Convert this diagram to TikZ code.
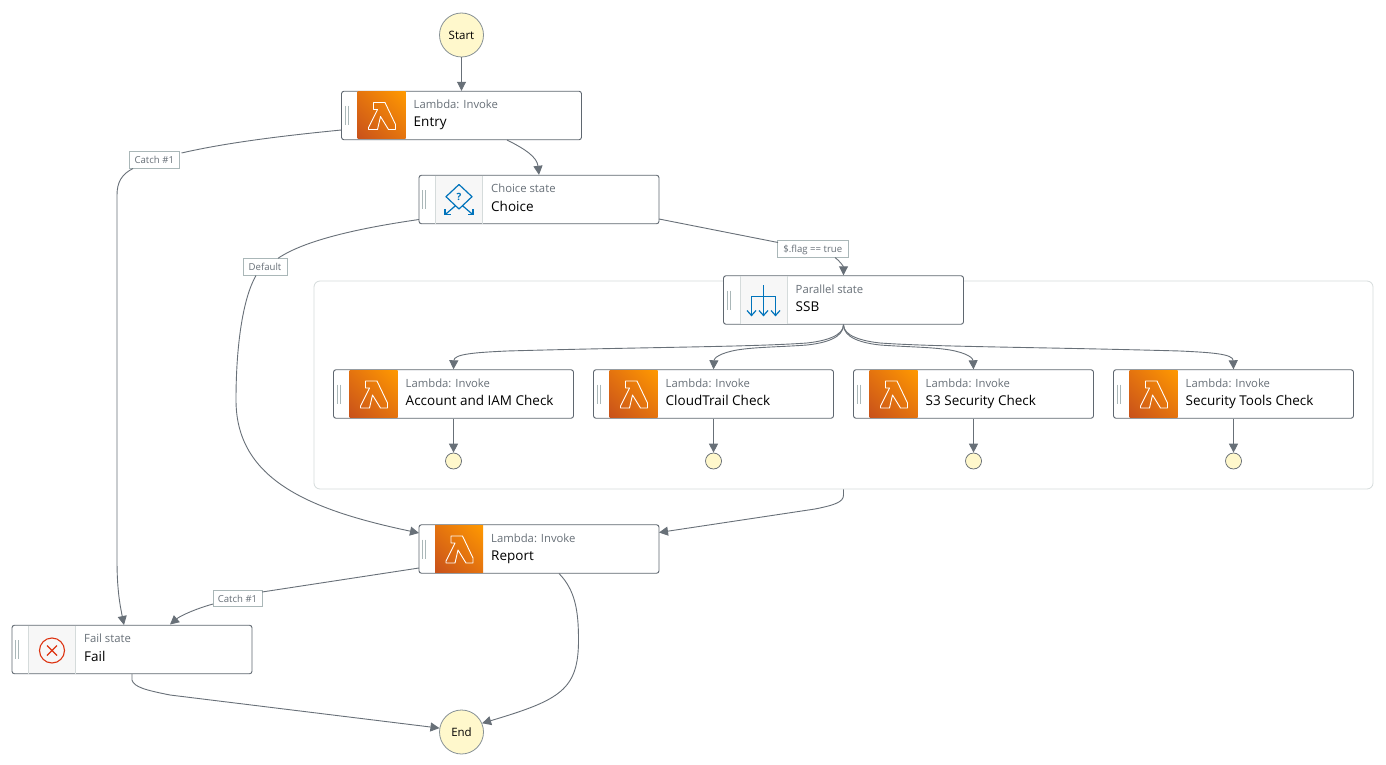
\documentclass[tikz,border=0pt]{standalone}
\usepackage{fontspec}
\setmainfont{Open Sans}
\usetikzlibrary{arrows.meta,calc,shadings}
\definecolor{edgec}{HTML}{687078}
\definecolor{boxc}{HTML}{5F6770}
\definecolor{termc}{HTML}{879196}
\definecolor{lightc}{HTML}{D5DBDB}
\definecolor{labelc}{HTML}{AAB7B8}
\definecolor{circfill}{HTML}{FFF8CC}
\definecolor{blueic}{HTML}{0073BB}
\definecolor{redic}{HTML}{DD3311}
\definecolor{lamll}{HTML}{C8511B}
\definecolor{lammid}{HTML}{E4730F}
\definecolor{lamur}{HTML}{FF9900}
\tikzset{
  x=1pt,y=-1pt,
  statebox/.style={draw=boxc,line width=0.9pt,fill=white,rounded corners=2.5pt,minimum width=240pt,minimum height=48.5pt,inner sep=0pt},
  terminal/.style={circle,draw=termc,line width=0.8pt,fill=circfill,minimum size=44pt,inner sep=0pt,font=\fontsize{11.5}{13}\selectfont,text=black},
  endpoint/.style={circle,draw=boxc,line width=0.7pt,fill=circfill,minimum size=16pt,inner sep=0pt},
  kindtext/.style={anchor=base west,inner sep=0pt,text=edgec,font=\fontsize{11.3}{13}\selectfont},
  titletext/.style={anchor=base west,inner sep=0pt,text=black,font=\fontsize{13.5}{16}\selectfont},
  edgelabel/.style={draw=labelc,line width=0.8pt,fill=white,text=edgec,inner sep=0pt,minimum height=16.5pt,text height=7pt,text depth=0pt,font=\fontsize{9.6}{12}\selectfont},
  flow/.style={draw=edgec,line width=0.9pt,-{Triangle[length=9pt,width=9pt]}},
  plainflow/.style={draw=edgec,line width=0.9pt},
  lambdaicon/.pic={
    \shade[lower left=lamll,upper left=lammid,lower right=lammid,upper right=lamur] (-24,-23.5) rectangle (24,23.5);
    \draw[white,line width=0.9pt,line join=round] (-8,-13) -- (3.5,-13) -- (14,9) -- (14,14) -- (7,14) -- (-1,1) -- (-4,14) -- (-13,14) -- (-13,12) -- (-4,-6) -- (-8,-6) -- cycle;
  },
  plainiconbg/.pic={
    \fill[black!3] (-23.5,-23.5) rectangle (23.5,23.5);
    \draw[lightc,line width=0.8pt] (-23.5,-24) -- (-23.5,24) (23.5,-24) -- (23.5,24);
  },
  choiceicon/.pic={
    \pic {plainiconbg};
    \draw[blueic,line width=1.2pt,line join=round] (0,-15) -- (13,-2.8) -- (0,9.5) -- (-13,-2.8) -- cycle;
    \node[text=blueic,inner sep=0pt,font=\fontsize{10}{11}\bfseries\selectfont] at (0,-3) {?};
    \draw[blueic,line width=1.2pt] (-3.5,6.2) -- (-13.5,14.8) (3.5,6.2) -- (13.5,14.8);
    \draw[blueic,line width=1.2pt] (-14,9.5) -- (-14,15) -- (-8.5,15) (14,9.5) -- (14,15) -- (8.5,15);
  },
  parallelicon/.pic={
    \pic {plainiconbg};
    \draw[blueic,line width=1.2pt] (0,-15) -- (0,15) (-12,15) -- (-12,-3.3) -- (12,-3.3) -- (12,15);
    \foreach \xx in {-12,0,12} {\draw[blueic,line width=1.2pt] (\xx-4.5,10.5) -- (\xx,15.5) -- (\xx+4.5,10.5);}
  },
  failicon/.pic={
    \pic {plainiconbg};
    \draw[redic,line width=1.1pt] (0,1) circle (12.5);
    \draw[redic,line width=1.1pt] (-5,-4) -- (5,6) (-5,6) -- (5,-4);
  }
}
\newcommand{\stateblock}[6]{% name, cx, cy, kind, title, icon
  \node[statebox] (#1) at (#2,#3) {};
  \draw[labelc,line width=0.7pt] ($(#1.center)+(-116.5,-9.5)$) -- ++(0,19) ($(#1.center)+(-113.5,-9.5)$) -- ++(0,19);
  \pic at ($(#1.center)+(-80,0)$) {#6};
  \node[kindtext] (#1-kind) at ($(#1.center)+(-48,-7)$) {#4};
  \node[titletext] (#1-title) at ($(#1.center)+(-48,11.5)$) {#5};
}
\begin{document}
\begin{tikzpicture}
\useasboundingbox (0,0) rectangle (1386,765);
\fill[white] (0,0) rectangle (1386,765);
% parallel group
\node[draw=lightc,line width=0.8pt,rounded corners=6pt,minimum width=1059pt,minimum height=208pt,inner sep=0pt] (group) at (843.5,385) {};
% states
\node[terminal] (start) at (461.5,35) {Start};
\node[terminal] (end) at (461.5,732) {End};
\stateblock{entry}{461.5}{115.5}{Lambda: Invoke}{Entry}{lambdaicon}
\stateblock{choice}{539}{199.5}{Choice state}{Choice}{choiceicon}
\stateblock{ssb}{843.5}{300}{Parallel state}{SSB}{parallelicon}
\stateblock{acct}{453.5}{394}{Lambda: Invoke}{Account and IAM Check}{lambdaicon}
\stateblock{trail}{713.5}{394}{Lambda: Invoke}{CloudTrail Check}{lambdaicon}
\stateblock{sthree}{973.5}{394}{Lambda: Invoke}{S3 Security Check}{lambdaicon}
\stateblock{tools}{1233.5}{394}{Lambda: Invoke}{Security Tools Check}{lambdaicon}
\stateblock{report}{539}{549}{Lambda: Invoke}{Report}{lambdaicon}
\stateblock{fail}{132}{649.5}{Fail state}{Fail}{failicon}
\node[endpoint] (acctend) at (453.5,461) {};
\node[endpoint] (trailend) at (713.5,461) {};
\node[endpoint] (sthreeend) at (973.5,461) {};
\node[endpoint] (toolsend) at (1233.5,461) {};
% labels
\node[edgelabel,minimum width=50pt] (catcha) at (154.3,160) {Catch \#1};
\node[edgelabel,minimum width=44pt] (deflabel) at (265,267) {Default};
\node[edgelabel,minimum width=71pt] (flag) at (812.8,249) {\$.flag == true};
\node[edgelabel,minimum width=49pt] (catchb) at (237.5,598.5) {Catch \#1};
% free connector ends on box borders
\coordinate (entryl) at (341.5,130);
\coordinate (entryb) at (507,140);
\coordinate (choicel) at (419,219.5);
\coordinate (choicer) at (659,219);
\coordinate (reportl) at (419,568);
\coordinate (reportr) at (659,532.5);
\coordinate (reportli) at (419,533);
\coordinate (reportb) at (559,573.5);
\coordinate (failt) at (124,625);
\coordinate (failtb) at (170,624.5);
% connectors
\draw[flow] (start.south) -- (entry.north);
\draw[flow] (entryb) .. controls (525,149) and (537,157) .. (choice.north);
\draw[plainflow] (entryl) .. controls (280,136) and (225,143) .. (181.5,153);
\draw[flow] (133,168.5) .. controls (122,174) and (117,182) .. (117,195) -- (117,560) .. controls (117,590) and (120,605) .. (failt);
\draw[plainflow] (choicel) .. controls (360,228) and (305,240) .. (278,258.3);
\draw[flow] (256,275.5) .. controls (243,298) and (236,345) .. (236,400) .. controls (236,480) and (310,510) .. (reportli);
\draw[plainflow] (choicer) -- (778,242.5);
\draw[flow] (835,257.5) .. controls (840,261) and (843.5,267) .. (ssb.north);
\draw[flow] (ssb.south) .. controls (843.5,336) and (825,341) .. (807,343) .. controls (750,347) and (650,347) .. (507,351) .. controls (475,352.5) and (454,354) .. (acct.north);
\draw[flow] (ssb.south) .. controls (843.5,338) and (825,343) .. (807,345) .. controls (780,347) and (755,347) .. (737,350) .. controls (720,353) and (714,358) .. (trail.north);
\draw[flow] (ssb.south) .. controls (843.5,338) and (862,343) .. (880,345) .. controls (907,347) and (932,347) .. (950,350) .. controls (967,353) and (973,358) .. (sthree.north);
\draw[flow] (ssb.south) .. controls (843.5,336) and (862,341) .. (880,343) .. controls (937,347) and (1037,347) .. (1180,351) .. controls (1212,352.5) and (1233,354) .. (tools.north);
\draw[flow] (acct.south) -- (acctend.north);
\draw[flow] (trail.south) -- (trailend.north);
\draw[flow] (sthree.south) -- (sthreeend.north);
\draw[flow] (tools.south) -- (toolsend.north);
\draw[flow] (group.south) -- (843.5,495) .. controls (843.5,502) and (835,505) .. (815,509) -- (reportr);
\draw[plainflow] (reportl) -- (262,592);
\draw[flow] (213,604) .. controls (195,609) and (180,616) .. (failtb);
\draw[flow] (reportb) .. controls (575,590) and (578.5,610) .. (578.5,640) .. controls (578.5,690) and (560,700) .. (end.23);
\draw[flow] (fail.south) -- (132,680) .. controls (134,687) and (145,690) .. (170,695) -- (end.170);
\end{tikzpicture}
\end{document}
